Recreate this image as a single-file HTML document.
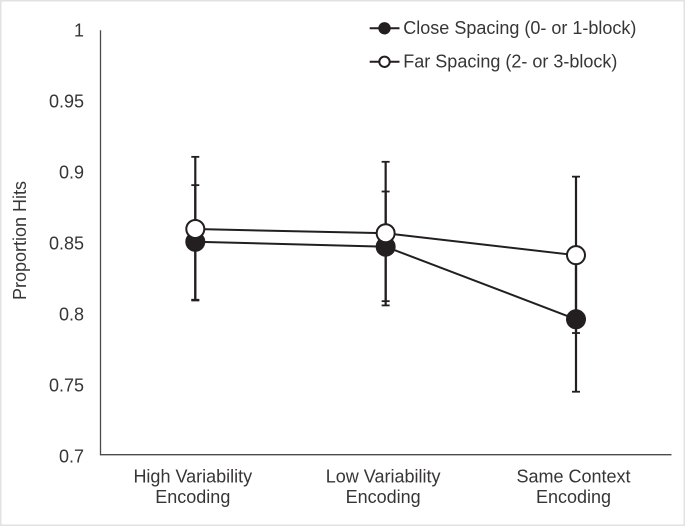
<!DOCTYPE html>
<html>
<head>
<meta charset="utf-8">
<style>
html,body{margin:0;padding:0;background:#fff;width:685px;height:526px;overflow:hidden}
svg{display:block}
text{font-family:"Liberation Sans",sans-serif;font-size:18px;fill:#383536}
</style>
</head>
<body>
<svg id="chart" width="685" height="526" viewBox="0 0 685 526" xmlns="http://www.w3.org/2000/svg">
<rect x="0.75" y="0.75" width="683.5" height="524.5" fill="#fff" stroke="#e2e2e2" stroke-width="1.5"/>
</svg>
<script>
var categories = [["High Variability","Encoding"],["Low Variability","Encoding"],["Same Context","Encoding"]];
var yTicks = ["0.7","0.75","0.8","0.85","0.9","0.95","1"];
var closeValues = [0.8505, 0.847, 0.7957];
var closeUpper = [0.8905, 0.886, 0.847];
var closeLower = [0.8095, 0.8085, 0.7445];
var farValues = [0.8595, 0.8565, 0.841];
var farUpper = [0.9105, 0.907, 0.8965];
var farLower = [0.809, 0.8055, 0.786];
var closeName = "Close Spacing (0- or 1-block)";
var farName = "Far Spacing (2- or 3-block)";

var svg = document.getElementById('chart');
var NS = 'http://www.w3.org/2000/svg';
var INK = '#231f20';
function yAt(v){ return 454.7 - (v - 0.7) * 1415; }
function xAt(i){ return 195.3 + i * 190.35; }
function add(tag, attrs, parent){
  var e = document.createElementNS(NS, tag);
  for (var k in attrs) e.setAttribute(k, attrs[k]);
  (parent || svg).appendChild(e);
  return e;
}
function line(x1,y1,x2,y2,color,w,parent){
  return add('line',{x1:x1,y1:y1,x2:x2,y2:y2,stroke:color,'stroke-width':w},parent);
}

var yAxis = line(100.5, yAt(1), 100.5, 455.2, '#4a4a4a', 1.3);


var xAxis = line(100, 454.7, 671.5, 454.7, '#4a4a4a', 1.3);



yTicks.forEach(function(t){
  var v = parseFloat(t);
  var e = add('text',{x:84,y:yAt(v)+8-(v-0.7)*5,'text-anchor':'end'});
  e.textContent = t;
  
  
});

categories.forEach(function(c,i){
  c.forEach(function(part,j){
    var e = add('text',{x:xAt(i)-2.5,y:482.5+j*20.5,'text-anchor':'middle'});
    e.textContent = part;
    
    
  });
});

var yTitle = add('text',{transform:'translate(26,240.5) rotate(-90)','text-anchor':'middle'});
yTitle.textContent = 'Proportion Hits';



function errorBars(upper, lower, name){
  upper.forEach(function(u,i){
    var g = add('g',{});
    
    
    var x = xAt(i);
    line(x, yAt(u), x, yAt(lower[i]), INK, 2.2, g);
    line(x-4, yAt(u), x+4, yAt(u), INK, 1.8, g);
    line(x-4, yAt(lower[i]), x+4, yAt(lower[i]), INK, 1.8, g);
  });
}
function series(values, fill, name){
  var g = add('g',{});
  
  
  var pts = values.map(function(v,i){ return xAt(i)+','+yAt(v); }).join(' ');
  add('polyline',{points:pts,fill:'none',stroke:INK,'stroke-width':2},g);
  values.forEach(function(v,i){
    add('circle',{cx:xAt(i),cy:yAt(v),r:9,fill:fill,stroke:INK,'stroke-width':2},g);
  });
}
errorBars(closeUpper, closeLower, 'close-spacing-error-bar');
errorBars(farUpper, farLower, 'far-spacing-error-bar');
series(closeValues, INK, 'close-spacing-series');
series(farValues, '#fff', 'far-spacing-series');

function legend(y, fill, label, name){
  var g = add('g',{});
  
  
  line(369.7, y, 399.5, y, INK, 2, g);
  add('circle',{cx:384.5,cy:y,r:5.2,fill:fill,stroke:INK,'stroke-width':2},g);
  var t = add('text',{x:403.3,y:y+5.5},g);
  t.textContent = label;
}
legend(28.3, INK, closeName, 'legend-entry-close-spacing');
legend(61.8, '#fff', farName, 'legend-entry-far-spacing');
</script>
</body>
</html>
